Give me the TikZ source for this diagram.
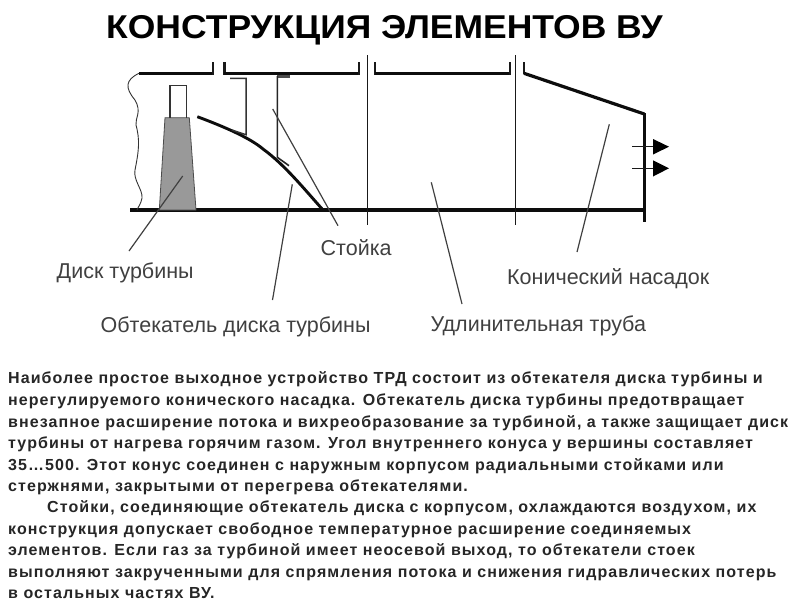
\documentclass[tikz,border=0pt]{standalone}
\usepackage{fontspec}
\setmainfont{Liberation Sans}
\newfontfamily\bodyfam[LetterSpace=6.7]{Liberation Sans}
\newcommand{\bodyfont}{\fontsize{16}{18}\bodyfam\bfseries\selectfont}
\begin{document}
\begin{tikzpicture}[x=1pt,y=-1pt,
  thickln/.style={line width=3.2pt,black!95},
  tickln/.style={line width=2.4pt,black!90},
  thinln/.style={line width=1.5pt,black!90},
  leader/.style={line width=1.2pt,black!75},
  lbl/.style={font=\fontsize{21.5}{24}\selectfont,text=black!75,anchor=base west,inner sep=0pt},
  bodyln/.style={font=\bodyfont,text=black!85,anchor=base west,inner sep=0pt},
  tip/.style={fill=black,draw=none}]
\useasboundingbox (0,0) rectangle (800,600);
\fill[white] (0,0) rectangle (800,600);
\node[font=\fontsize{33}{36}\bfseries\selectfont,anchor=base west,inner sep=0pt,xscale=1.075] (title) at (106,38) {КОНСТРУКЦИЯ ЭЛЕМЕНТОВ ВУ};
% casing
\draw[thickln] (139,73.3) -- (212.7,73.3);
\draw[tickln] (212.7,74.5) -- (212.7,62);
\draw[tickln] (224.3,62) -- (224.3,74.5);
\draw[thickln] (224.3,73.3) -- (359,73.3);
\draw[tickln] (359,74.5) -- (359,62);
\draw[tickln] (375,62) -- (375,74.5);
\draw[thickln] (375,73.3) -- (510,73.3);
\draw[tickln] (510,74.5) -- (510,62);
\draw[tickln] (524,62) -- (524,74);
\draw[thickln] (524,73.3) -- (644.3,114);
\draw[thickln] (644.3,113) -- (644.3,222);
\draw[thickln] (130,210) -- (644.3,210);
\draw[thinln] (367.7,55) -- (367.7,225);
\draw[thinln] (515.3,55) -- (515.3,225);
% wavy break
\draw[line width=.9pt,black!80] (139,73.3) .. controls (125,80) and (125,88) .. (135,100)
  .. controls (142,112) and (135,118) .. (136,125)
  .. controls (140,140) and (139,150) .. (135,170)
  .. controls (133,180) and (143,190) .. (142,198)
  .. controls (141,204) and (138,207) .. (137,210);
% disk
\filldraw[fill=black!40,draw=black!70,line width=.8pt] (165,117.7) -- (189.3,117.7) -- (196,210) -- (159.3,210) -- cycle;
\draw[line width=1.5pt,black!80] (170,117.7) -- (170,85.3) -- (186.7,85.3) -- (186.7,117.7);
% fairing
\draw[line width=2.9pt,black!95] (197.3,116.7) .. controls (225,127) and (250,138) .. (263,149)
  .. controls (285,165) and (305,190) .. (323.5,210.5);
% bracket
\draw[line width=1.5pt,black!80] (230,78.3) -- (246,78.3) -- (246,134.7) -- (231.7,130);
% strut
\draw[line width=3pt,black!70] (290,76.3) -- (277.3,76.3);
\draw[line width=1.6pt,black!85] (277.3,76) -- (277.3,157.3) -- (289,165.7);
% leaders
\draw[leader] (182.7,176) -- (129,251);
\draw[leader] (272.7,109) -- (338,225.7);
\draw[leader] (292.3,184.3) -- (272.5,300);
\draw[leader] (431.3,182.3) -- (462,304);
\draw[leader] (609.3,124.3) -- (577,252);
% exit arrows
\draw[line width=1.2pt,black!90] (632,146.7) -- (655,146.7);
\fill[tip] (653,139) -- (669,146.7) -- (653,154.5) -- cycle;
\draw[line width=1.2pt,black!90] (632,168.3) -- (655,168.3);
\fill[tip] (653,160.3) -- (669,168.3) -- (653,176.5) -- cycle;
% labels
\node[lbl] (l1) at (56.5,278) {Диск турбины};
\node[lbl] (l2) at (320.5,255) {Стойка};
\node[lbl] (l3) at (507,284) {Конический насадок};
\node[lbl] (l4) at (100.5,332.5) {Обтекатель диска турбины};
\node[lbl] (l5) at (430.5,331.5) {Удлинительная труба};
% body
\node[bodyln] (b1) at (8,383) {Наиболее простое выходное устройство ТРД состоит из обтекателя диска турбины и};
\node[bodyln] (b2) at (8,405) {нерегулируемого конического насадка. Обтекатель диска турбины предотвращает};
\node[bodyln] (b3) at (8,427) {внезапное расширение потока и вихреобразование за турбиной, а также защищает диск};
\node[bodyln] (b4) at (8,448) {турбины от нагрева горячим газом. Угол внутреннего конуса у вершины составляет};
\node[bodyln] (b5) at (8,470) {35…500. Этот конус соединен с наружным корпусом радиальными стойками или};
\node[bodyln] (b6) at (8,491) {стержнями, закрытыми от перегрева обтекателями.};
\node[bodyln] (b7) at (47,512) {Стойки, соединяющие обтекатель диска с корпусом, охлаждаются воздухом, их};
\node[bodyln] (b8) at (8,534) {конструкция допускает свободное температурное расширение соединяемых};
\node[bodyln] (b9) at (8,555) {элементов. Если газ за турбиной имеет неосевой выход, то обтекатели стоек};
\node[bodyln] (b10) at (8,577) {выполняют закрученными для спрямления потока и снижения гидравлических потерь};
\node[bodyln] (b11) at (8,598) {в остальных частях ВУ.};
\end{tikzpicture}
\end{document}
